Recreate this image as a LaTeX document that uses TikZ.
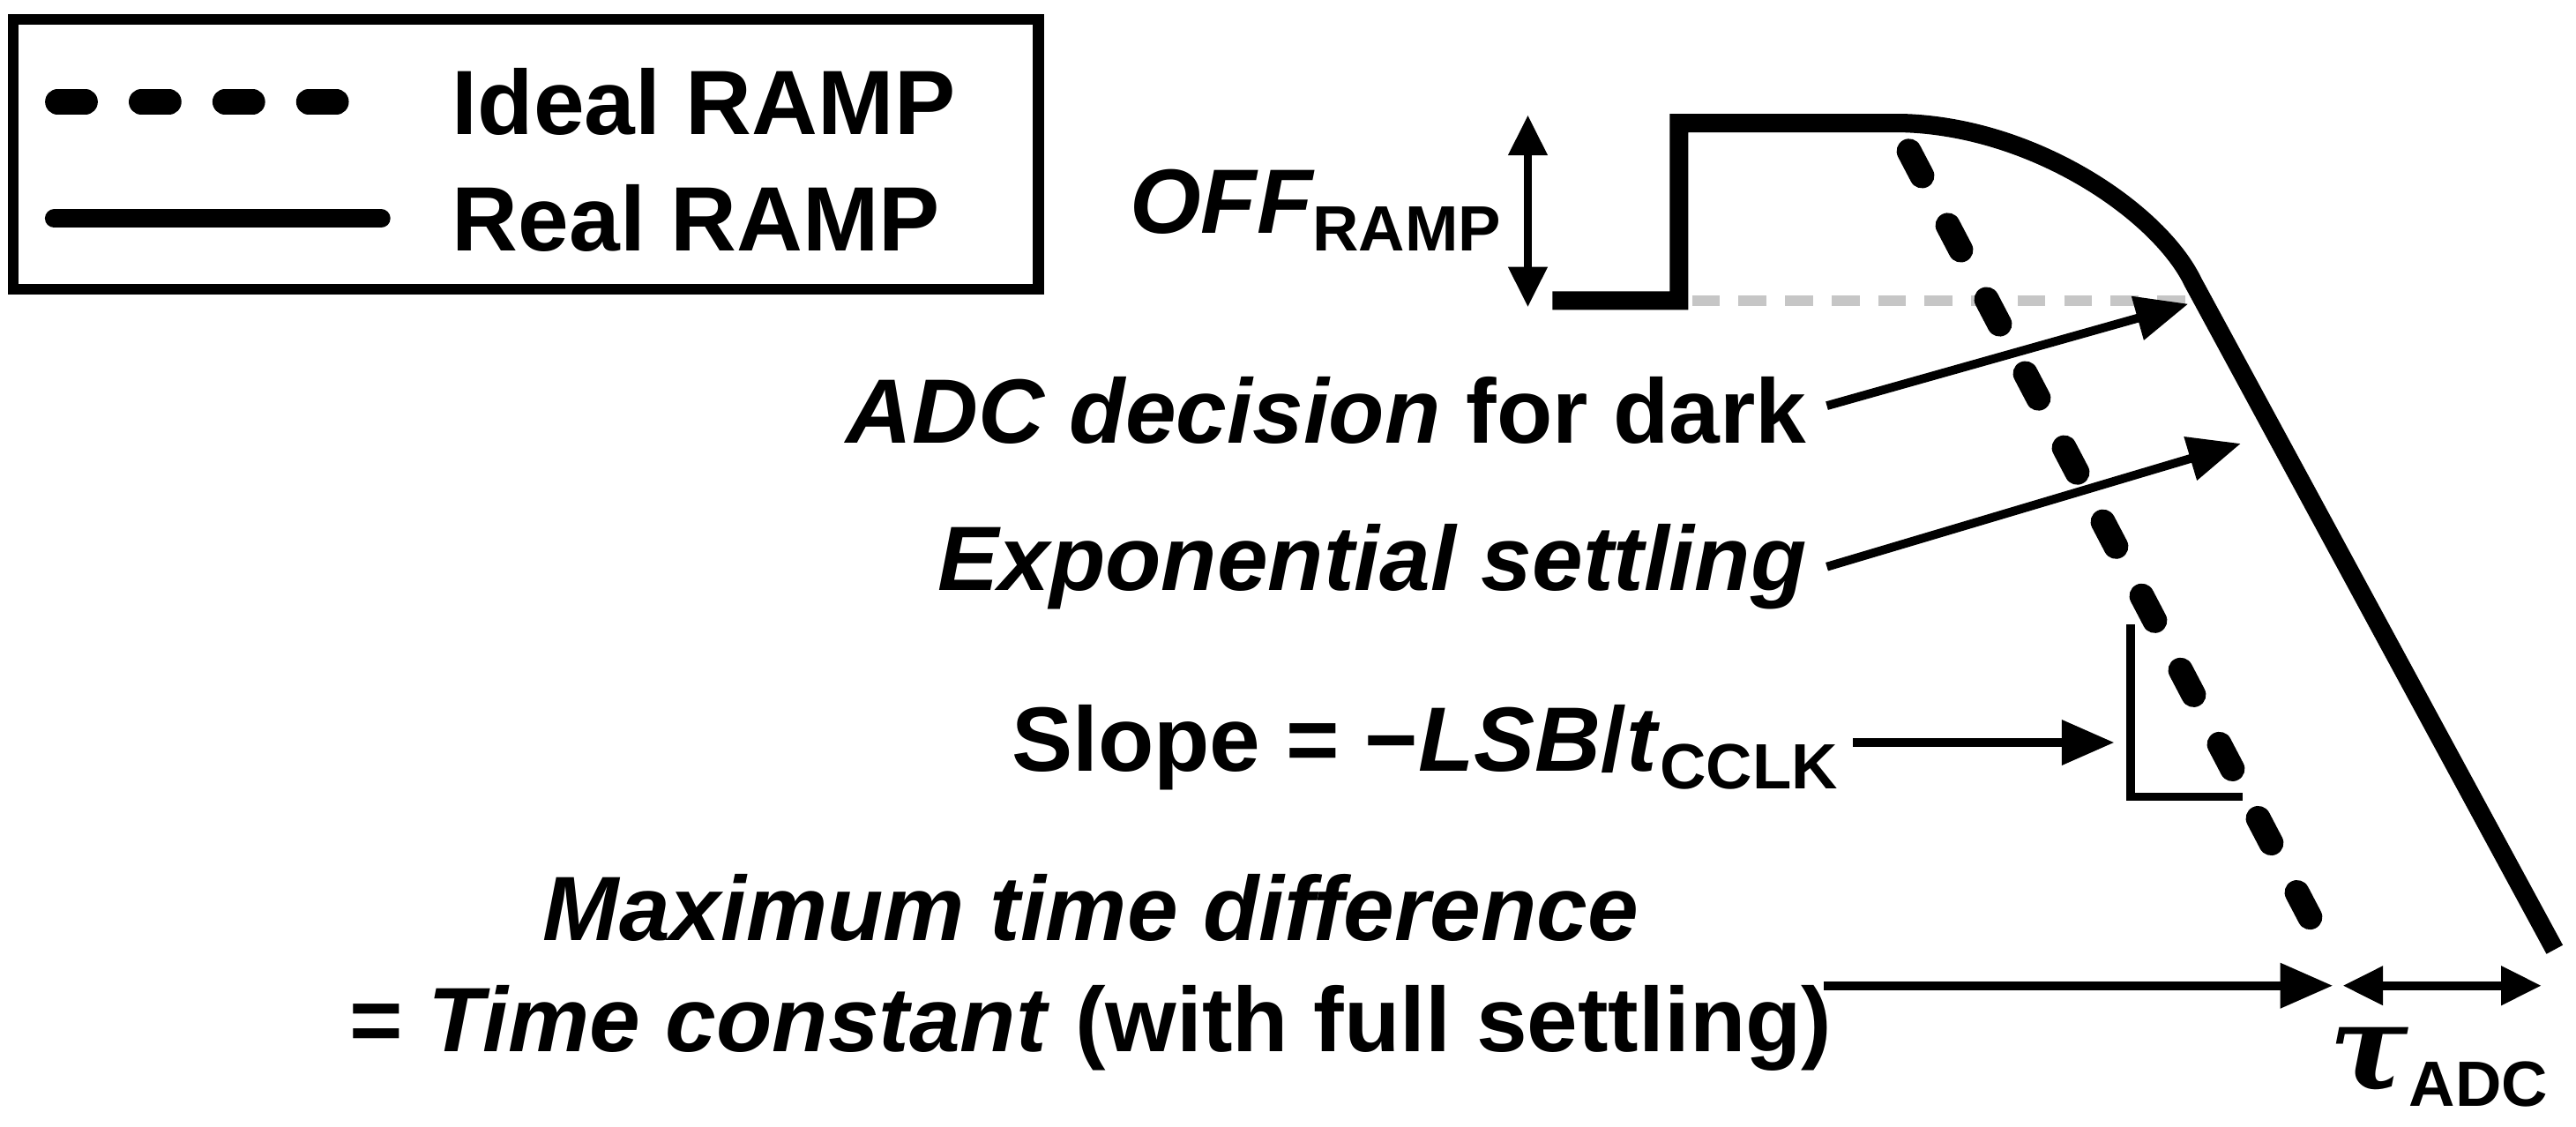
\documentclass[tikz,border=0pt]{standalone}
\usepackage{fontspec}
\setmainfont{Liberation Sans}
\newfontfamily\taufont{DejaVu Serif}
\usetikzlibrary{arrows.meta}
\begin{document}
\begin{tikzpicture}[x=0.01863cm,y=-0.01863cm,
  txt/.style={font=\fontsize{29.5}{34}\selectfont\bfseries, inner sep=0pt},
  arr/.style={line width=2.8pt,-{Triangle[length=17pt,width=14pt]}},
  darr/.style={line width=2.8pt,{Triangle[length=13pt,width=12pt]}-{Triangle[length=13pt,width=12pt]}},
  heavydash/.style={line width=8pt,line cap=round,dash pattern=on 9pt off 18pt}]
\useasboundingbox (0,0) rectangle (1568,686);
% legend
\draw[line width=3.5pt] (8,12) rectangle (632,176);
\draw[heavydash] (35,62) -- (230,62);
\draw[line width=6pt,line cap=round] (33,133) -- (232,133);
\node[txt,anchor=west] (l1) at (275,62) {Ideal RAMP};
\node[txt,anchor=west] (l2) at (275,133) {Real RAMP};
% ramps
\draw[line width=3.5pt,gray!45,dash pattern=on 9pt off 6pt] (1030,183) -- (1330,183);
\draw[line width=6pt,line join=miter] (945,183) -- (1022,183) -- (1022,75) -- (1160,75)
  .. controls (1240,78) and (1315,130) .. (1335,172) -- (1555,578);
\draw[heavydash] (1162,92) -- (1420,585);
% OFF
\coordinate (o1) at (930,70); \coordinate (o2) at (930,187);
\draw[darr] (o1) -- (o2);
\node[txt,anchor=east] (off) at (915,128) {\itshape OFF\textsubscript{\normalfont\bfseries RAMP}};
% labels with arrows
\node[txt,anchor=east] (adc) at (1100,250) {\itshape ADC decision\/\normalfont\bfseries{} for dark};
\coordinate (a1) at (1332,185);
\draw[arr] (1112,247) -- (a1);
\node[txt,anchor=east] (exp) at (1100,345) {\itshape Exponential settling};
\coordinate (a2) at (1364,270);
\draw[arr] (1112,345) -- (a2);
\node[txt,anchor=east] (slope) at (1120,455) {Slope = −\textit{LSB}/\textit{t}\textsubscript{CCLK}};
\coordinate (a3) at (1287,452);
\draw[arr] (1128,452) -- (a3);
\draw[line width=2.8pt] (1297,380) -- (1297,485) -- (1365,485);
\node[txt,align=center] (max) at (664,592) {\itshape Maximum time difference\\[2pt] = \itshape Time constant\/\normalfont\bfseries{} (with full settling)};
\coordinate (a4) at (1420,600);
\draw[arr] (1110,600) -- (a4);
\coordinate (t1) at (1426,600); \coordinate (t2) at (1547,600);
\draw[darr] (t1) -- (t2);
\node[txt,anchor=north] (tau) at (1485,625) {{\taufont\bfseries\itshape\fontsize{38}{40}\selectfont τ}\textsubscript{ADC}};
\end{tikzpicture}
\end{document}
